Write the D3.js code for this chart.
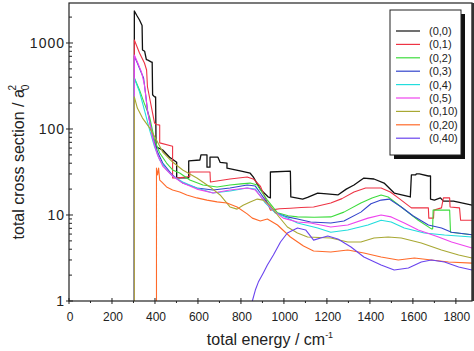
<!DOCTYPE html>
<html>
<head>
<meta charset="utf-8">
<script src="https://cdn.jsdelivr.net/npm/d3@7"></script>
<style>
  body { margin: 0; background: #fff; }
  text { font-family: "Liberation Sans", Arial, sans-serif; fill: #222; }
</style>
</head>
<body>
<svg id="chart" width="474" height="351"></svg>
<script>
// series: [total energy (cm-1), total cross section (a0^2)]
var s00 = [[304,1],[304,2355],[315,2100],[328,1850],[340,1600],[342,830],[352,800],[360,640],[365,635],[384,600],[387,600],[389,250],[398,236],[403,236],[405,62],[436,57],[468,47],[501,41],[501,27],[557,27],[557,42.5],[609,43.6],[614,50],[642,50],[642,36],[656,36],[656,47],[693,47],[703,41],[735,40],[735,35],[796,32.5],[843,30.6],[857,27.7],[890,20],[927,16.2],[937,15.8],[937,31.6],[1030,32.4],[1032,16.2],[1087,15.3],[1110,16],[1157,18],[1200,17.6],[1251,17.1],[1290,20],[1326,22.3],[1372,26.9],[1419,26.2],[1466,23.5],[1513,18],[1588,16.2],[1593,29.2],[1612,29.2],[1616,30],[1630,30],[1672,28.4],[1682,28.4],[1682,15.3],[1700,14.9],[1728,15.8],[1742,14.5],[1789,14.5],[1827,13.8],[1875,13]];
var s01 = [[304,1],[304,1084],[328,765],[351,585],[361,485],[365,310],[398,117],[407,113],[422,111],[422,69],[482,63],[482,27],[510,27],[562,28],[562,31.6],[656,31.6],[658,24.2],[749,26.2],[829,27.7],[860,26],[890,21.7],[937,11.4],[980,11.8],[1030,12],[1080,12.2],[1138,12.4],[1218,13.8],[1270,15.5],[1326,18.5],[1380,20.6],[1452,20.6],[1495,18.5],[1532,15.8],[1593,12.1],[1672,12.1],[1674,9.2],[1696,9.2],[1698,11.4],[1733,12.1],[1742,15.8],[1771,15.8],[1773,12.4],[1817,12.1],[1822,8.7],[1875,8.7]];
var s02 = [[304,1],[304,392],[328,284],[350,200],[375,138],[398,74.5],[422,52.6],[454,40.2],[482,33.4],[515,30.8],[562,25.5],[623,22.3],[689,21.2],[749,22.3],[800,23],[843,23.5],[876,22.3],[900,18],[923,14.9],[970,10.6],[1020,9.8],[1063,9.5],[1140,9.4],[1218,9.5],[1279,10.8],[1358,13.8],[1410,15.8],[1452,17.1],[1485,16.2],[1546,12.4],[1625,8.7],[1686,6.9],[1692,6.9],[1694,11.4],[1771,11.4],[1775,6.3],[1875,5.9]];
var s03 = [[304,1],[304,706],[318,585],[337,448],[347,392],[356,260],[365,166],[389,80.7],[412,54],[436,40.2],[482,29],[529,23.5],[595,20.6],[670,19.5],[749,20.6],[829,22.3],[867,21.7],[890,18],[913,14.9],[960,10.6],[1016,9.5],[1063,9],[1124,8.3],[1218,8.07],[1279,8.5],[1358,10.8],[1405,13.5],[1452,14.9],[1490,15.3],[1546,12.4],[1600,9.8],[1672,7.65],[1733,7.06],[1780,6.3],[1875,5.9]];
var s04 = [[304,1],[304,392],[328,270],[351,166],[375,97.6],[398,62],[422,43.6],[454,33.4],[482,28.4],[529,24.2],[595,20.6],[670,18],[749,19],[829,20.6],[867,20],[913,13.8],[960,10.6],[1016,9.2],[1063,8.07],[1157,7.06],[1218,6.3],[1297,6.7],[1391,7.65],[1452,8.7],[1499,8.3],[1560,7.06],[1653,6.18],[1747,5.85],[1875,5.55]];
var s05 = [[304,1],[304,725],[318,601],[337,460],[351,325],[365,166],[389,78.6],[412,49.8],[436,37.1],[482,28.4],[529,23.5],[595,20],[670,18],[749,19.5],[829,20.6],[867,19.5],[913,14.2],[960,10.8],[997,9.2],[1063,8.3],[1124,8.07],[1218,7.25],[1297,7.65],[1391,9.2],[1452,10],[1499,9.5],[1560,8.07],[1625,6.7],[1719,5.55],[1780,4.85],[1875,4.13]];
var s10 = [[304,1],[304,236],[318,175],[342,134],[375,103],[407,74.5],[436,54],[482,41.3],[529,33.4],[595,26.9],[656,21.2],[703,17.1],[749,12.4],[782,11.7],[810,13],[843,14.2],[876,15.3],[904,14.9],[937,12.8],[970,10],[1016,7.25],[1063,6.18],[1110,5.55],[1218,5.4],[1297,4.85],[1358,4.85],[1419,5.4],[1485,5.55],[1546,5.4],[1639,4.72],[1733,3.92],[1813,3.43],[1875,3.16]];
var s20 = [[407,1],[407,35.2],[412,29.2],[417,35.2],[422,25.5],[431,24.2],[454,21.2],[482,19.5],[515,18.5],[548,17.1],[595,15.8],[642,14.9],[689,14.2],[735,13.8],[782,12.4],[829,10.3],[853,9.2],[890,8.5],[923,9],[970,7.65],[1030,5.55],[1091,4.36],[1138,3.82],[1218,3.72],[1297,3.92],[1372,3.61],[1452,3.25],[1532,3],[1607,3.16],[1686,3],[1766,2.84],[1875,2.76]];
var s40 = [[853,1],[867,1.34],[881,1.66],[904,2.12],[923,2.62],[951,3.43],[984,4.85],[1016,6.18],[1063,7.06],[1101,6.7],[1138,5.1],[1171,5.4],[1204,5.7],[1251,5.26],[1312,4.25],[1372,3.25],[1452,2.62],[1513,2.29],[1579,2.42],[1639,2.84],[1686,3],[1747,2.84],[1813,2.49],[1875,2.29]];

var names = ["(0,0)","(0,1)","(0,2)","(0,3)","(0,4)","(0,5)","(0,10)","(0,20)","(0,40)"];
var colors = ["#111111","#ee3344","#3ddc3d","#3344cc","#22dddd","#ee44ee","#a8a833","#ff6a2a","#6a44ee"];
var seriesList = [s00, s01, s02, s03, s04, s05, s10, s20, s40];
var xTicks = [0,200,400,600,800,1000,1200,1400,1600,1800];
var yTicks = [1,10,100,1000];

var svg = d3.select("#chart");
var pLeft = 69, pRight = 472, pTop = 3, pBottom = 301;

var x = d3.scaleLinear().domain([0, 1875]).range([pLeft, pRight]);
var y = d3.scaleLog().domain([1, 2917]).range([pBottom, pTop]);

// curves, in legend order (later ones on top)
var line = d3.line()
  .x(d => x(d[0]))
  .y(d => y(d[1]));
seriesList.forEach(function(s, i) {
  svg.append("path")
    .attr("d", line(s))
    .attr("fill", "none")
    .attr("stroke", colors[i])
    .attr("stroke-width", i == 0 ? 1.3 : 1.1)
    .attr("stroke-linejoin", "round");
});

// frame
svg.append("rect")
  .attr("x", pLeft).attr("y", pTop)
  .attr("width", pRight - pLeft).attr("height", pBottom - pTop)
  .attr("fill", "none").attr("stroke", "#222").attr("stroke-width", 1.2);
svg.append("line")
  .attr("x1", pRight + 1).attr("x2", pRight + 1)
  .attr("y1", pTop).attr("y2", pBottom)
  .attr("stroke", "#333").attr("stroke-width", 2.5);

// x axis
var xMinor = d3.range(100, 1900, 200);
svg.selectAll(".xmaj").data(xTicks).enter().append("line")
  .attr("x1", d => x(d)).attr("x2", d => x(d))
  .attr("y1", pBottom - 3).attr("y2", pBottom + 3)
  .attr("stroke", "#222");
svg.selectAll(".xmin").data(xMinor).enter().append("line")
  .attr("x1", d => x(d)).attr("x2", d => x(d))
  .attr("y1", pBottom).attr("y2", pBottom + 2)
  .attr("stroke", "#222");
svg.selectAll(".xlab").data(xTicks).enter().append("text")
  .attr("x", d => x(d) + 1).attr("y", pBottom + 20)
  .attr("text-anchor", "middle")
  .attr("font-size", 12)
  .text(d => d);

// y axis
var yMinor = [];
[1,10,100,1000].forEach(function(b) {
  for (var k = 2; k <= 9; k++) { if (b * k <= 2917) yMinor.push(b * k); }
});
svg.selectAll(".ymaj").data(yTicks).enter().append("line")
  .attr("x1", pLeft - 3).attr("x2", pLeft + 4)
  .attr("y1", d => y(d)).attr("y2", d => y(d))
  .attr("stroke", "#222");
svg.selectAll(".ymin").data(yMinor).enter().append("line")
  .attr("x1", pLeft).attr("x2", pLeft + 3)
  .attr("y1", d => y(d)).attr("y2", d => y(d))
  .attr("stroke", "#222");
svg.selectAll(".ylab").data(yTicks).enter().append("text")
  .attr("x", pLeft - 4).attr("y", d => y(d) + 5)
  .attr("text-anchor", "end")
  .attr("font-size", 14)
  .attr("letter-spacing", 1)
  .text(d => d);

// axis titles
var xt = svg.append("text")
  .attr("x", 270).attr("y", 345)
  .attr("text-anchor", "middle")
  .attr("font-size", 16);
xt.append("tspan").text("total energy / cm");
xt.append("tspan").attr("font-size", 9).attr("dy", -7).text("-1");

var yt = svg.append("text")
  .attr("transform", "translate(24,162) rotate(-90)")
  .attr("text-anchor", "middle")
  .attr("font-size", 16);
yt.append("tspan").text("total cross section / a");
yt.append("tspan").attr("font-size", 10).attr("dx", -1).attr("dy", 5).text("0");
yt.append("tspan").attr("font-size", 10).attr("dx", -6).attr("dy", -13).text("2");

// legend
var lg = svg.append("g");
lg.append("rect").attr("x", 394).attr("y", 14).attr("width", 71).attr("height", 145).attr("fill", "#111");
lg.append("rect").attr("x", 390).attr("y", 10).attr("width", 71).attr("height", 145)
  .attr("fill", "#fff").attr("stroke", "#222").attr("stroke-width", 1);
names.forEach(function(n, i) {
  var yy = 31 + i * 13.4;
  lg.append("line").attr("x1", 396).attr("x2", 420).attr("y1", yy).attr("y2", yy)
    .attr("stroke", colors[i]).attr("stroke-width", 1.2);
  lg.append("text").attr("x", 429).attr("y", yy + 4).attr("font-size", 11).text(n);
});
</script>
</body>
</html>
